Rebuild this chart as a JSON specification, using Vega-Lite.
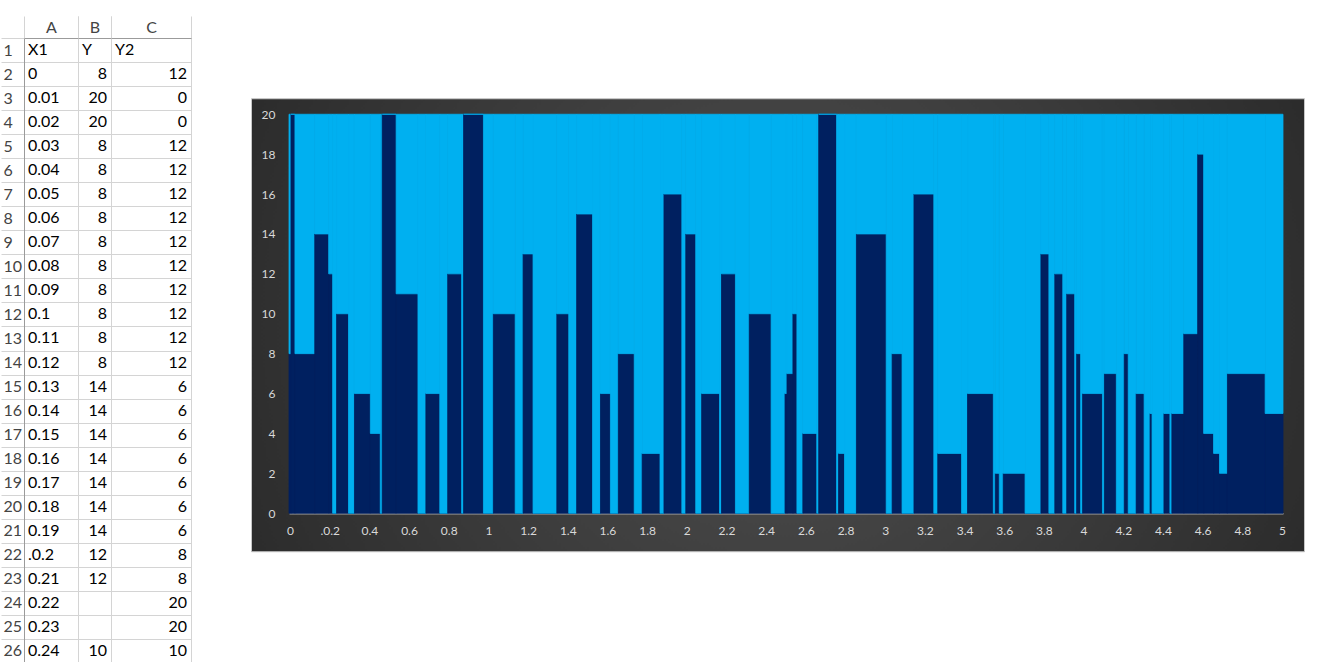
{
  "$schema": "https://vega.github.io/schema/vega-lite/v6.json",
  "background": "white",
  "padding": {"left": 0, "top": 15, "right": 0, "bottom": 0},
  "datasets": {
    "sheet": [
      {"row": 1, "X1": "X1", "Y": "Y", "Y2": "Y2"},
      {"row": 2, "X1": "0", "Y": 8, "Y2": 12},
      {"row": 3, "X1": "0.01", "Y": 20, "Y2": 0},
      {"row": 4, "X1": "0.02", "Y": 20, "Y2": 0},
      {"row": 5, "X1": "0.03", "Y": 8, "Y2": 12},
      {"row": 6, "X1": "0.04", "Y": 8, "Y2": 12},
      {"row": 7, "X1": "0.05", "Y": 8, "Y2": 12},
      {"row": 8, "X1": "0.06", "Y": 8, "Y2": 12},
      {"row": 9, "X1": "0.07", "Y": 8, "Y2": 12},
      {"row": 10, "X1": "0.08", "Y": 8, "Y2": 12},
      {"row": 11, "X1": "0.09", "Y": 8, "Y2": 12},
      {"row": 12, "X1": "0.1", "Y": 8, "Y2": 12},
      {"row": 13, "X1": "0.11", "Y": 8, "Y2": 12},
      {"row": 14, "X1": "0.12", "Y": 8, "Y2": 12},
      {"row": 15, "X1": "0.13", "Y": 14, "Y2": 6},
      {"row": 16, "X1": "0.14", "Y": 14, "Y2": 6},
      {"row": 17, "X1": "0.15", "Y": 14, "Y2": 6},
      {"row": 18, "X1": "0.16", "Y": 14, "Y2": 6},
      {"row": 19, "X1": "0.17", "Y": 14, "Y2": 6},
      {"row": 20, "X1": "0.18", "Y": 14, "Y2": 6},
      {"row": 21, "X1": "0.19", "Y": 14, "Y2": 6},
      {"row": 22, "X1": ".0.2", "Y": 12, "Y2": 8},
      {"row": 23, "X1": "0.21", "Y": 12, "Y2": 8},
      {"row": 24, "X1": "0.22", "Y": null, "Y2": 20},
      {"row": 25, "X1": "0.23", "Y": null, "Y2": 20},
      {"row": 26, "X1": "0.24", "Y": 10, "Y2": 10}
    ],
    "runs": [
      {"start": -0.005, "end": 0.005, "Y": 8, "Y2": 12},
      {"start": 0.005, "end": 0.025, "Y": 20, "Y2": 0},
      {"start": 0.025, "end": 0.125, "Y": 8, "Y2": 12},
      {"start": 0.125, "end": 0.195, "Y": 14, "Y2": 6},
      {"start": 0.195, "end": 0.215, "Y": 12, "Y2": 8},
      {"start": 0.215, "end": 0.235, "Y": 0, "Y2": 20},
      {"start": 0.235, "end": 0.295, "Y": 10, "Y2": 10},
      {"start": 0.295, "end": 0.325, "Y": 0, "Y2": 20},
      {"start": 0.325, "end": 0.405, "Y": 6, "Y2": 14},
      {"start": 0.405, "end": 0.455, "Y": 4, "Y2": 16},
      {"start": 0.455, "end": 0.465, "Y": 0, "Y2": 20},
      {"start": 0.465, "end": 0.535, "Y": 20, "Y2": 0},
      {"start": 0.535, "end": 0.645, "Y": 11, "Y2": 9},
      {"start": 0.645, "end": 0.685, "Y": 0, "Y2": 20},
      {"start": 0.685, "end": 0.755, "Y": 6, "Y2": 14},
      {"start": 0.755, "end": 0.795, "Y": 0, "Y2": 20},
      {"start": 0.795, "end": 0.865, "Y": 12, "Y2": 8},
      {"start": 0.865, "end": 0.875, "Y": 0, "Y2": 20},
      {"start": 0.875, "end": 0.975, "Y": 20, "Y2": 0},
      {"start": 0.975, "end": 1.025, "Y": 0, "Y2": 20},
      {"start": 1.025, "end": 1.135, "Y": 10, "Y2": 10},
      {"start": 1.135, "end": 1.175, "Y": 0, "Y2": 20},
      {"start": 1.175, "end": 1.225, "Y": 13, "Y2": 7},
      {"start": 1.225, "end": 1.345, "Y": 0, "Y2": 20},
      {"start": 1.345, "end": 1.405, "Y": 10, "Y2": 10},
      {"start": 1.405, "end": 1.445, "Y": 0, "Y2": 20},
      {"start": 1.445, "end": 1.525, "Y": 15, "Y2": 5},
      {"start": 1.525, "end": 1.565, "Y": 0, "Y2": 20},
      {"start": 1.565, "end": 1.615, "Y": 6, "Y2": 14},
      {"start": 1.615, "end": 1.655, "Y": 0, "Y2": 20},
      {"start": 1.655, "end": 1.735, "Y": 8, "Y2": 12},
      {"start": 1.735, "end": 1.775, "Y": 0, "Y2": 20},
      {"start": 1.775, "end": 1.865, "Y": 3, "Y2": 17},
      {"start": 1.865, "end": 1.885, "Y": 0, "Y2": 20},
      {"start": 1.885, "end": 1.975, "Y": 16, "Y2": 4},
      {"start": 1.975, "end": 1.995, "Y": 0, "Y2": 20},
      {"start": 1.995, "end": 2.045, "Y": 14, "Y2": 6},
      {"start": 2.045, "end": 2.075, "Y": 0, "Y2": 20},
      {"start": 2.075, "end": 2.165, "Y": 6, "Y2": 14},
      {"start": 2.165, "end": 2.175, "Y": 0, "Y2": 20},
      {"start": 2.175, "end": 2.245, "Y": 12, "Y2": 8},
      {"start": 2.245, "end": 2.315, "Y": 0, "Y2": 20},
      {"start": 2.315, "end": 2.425, "Y": 10, "Y2": 10},
      {"start": 2.425, "end": 2.495, "Y": 0, "Y2": 20},
      {"start": 2.495, "end": 2.505, "Y": 6, "Y2": 14},
      {"start": 2.505, "end": 2.535, "Y": 7, "Y2": 13},
      {"start": 2.535, "end": 2.555, "Y": 10, "Y2": 10},
      {"start": 2.555, "end": 2.585, "Y": 0, "Y2": 20},
      {"start": 2.585, "end": 2.655, "Y": 4, "Y2": 16},
      {"start": 2.655, "end": 2.665, "Y": 0, "Y2": 20},
      {"start": 2.665, "end": 2.755, "Y": 20, "Y2": 0},
      {"start": 2.755, "end": 2.765, "Y": 0, "Y2": 20},
      {"start": 2.765, "end": 2.795, "Y": 3, "Y2": 17},
      {"start": 2.795, "end": 2.855, "Y": 0, "Y2": 20},
      {"start": 2.855, "end": 3.005, "Y": 14, "Y2": 6},
      {"start": 3.005, "end": 3.035, "Y": 0, "Y2": 20},
      {"start": 3.035, "end": 3.085, "Y": 8, "Y2": 12},
      {"start": 3.085, "end": 3.145, "Y": 0, "Y2": 20},
      {"start": 3.145, "end": 3.245, "Y": 16, "Y2": 4},
      {"start": 3.245, "end": 3.265, "Y": 0, "Y2": 20},
      {"start": 3.265, "end": 3.385, "Y": 3, "Y2": 17},
      {"start": 3.385, "end": 3.415, "Y": 0, "Y2": 20},
      {"start": 3.415, "end": 3.545, "Y": 6, "Y2": 14},
      {"start": 3.545, "end": 3.555, "Y": 0, "Y2": 20},
      {"start": 3.555, "end": 3.575, "Y": 2, "Y2": 18},
      {"start": 3.575, "end": 3.595, "Y": 0, "Y2": 20},
      {"start": 3.595, "end": 3.705, "Y": 2, "Y2": 18},
      {"start": 3.705, "end": 3.785, "Y": 0, "Y2": 20},
      {"start": 3.785, "end": 3.825, "Y": 13, "Y2": 7},
      {"start": 3.825, "end": 3.855, "Y": 0, "Y2": 20},
      {"start": 3.855, "end": 3.895, "Y": 12, "Y2": 8},
      {"start": 3.895, "end": 3.915, "Y": 0, "Y2": 20},
      {"start": 3.915, "end": 3.955, "Y": 11, "Y2": 9},
      {"start": 3.955, "end": 3.965, "Y": 0, "Y2": 20},
      {"start": 3.965, "end": 3.985, "Y": 8, "Y2": 12},
      {"start": 3.985, "end": 3.995, "Y": 0, "Y2": 20},
      {"start": 3.995, "end": 4.095, "Y": 6, "Y2": 14},
      {"start": 4.095, "end": 4.105, "Y": 0, "Y2": 20},
      {"start": 4.105, "end": 4.165, "Y": 7, "Y2": 13},
      {"start": 4.165, "end": 4.205, "Y": 0, "Y2": 20},
      {"start": 4.205, "end": 4.225, "Y": 8, "Y2": 12},
      {"start": 4.225, "end": 4.265, "Y": 0, "Y2": 20},
      {"start": 4.265, "end": 4.305, "Y": 6, "Y2": 14},
      {"start": 4.305, "end": 4.335, "Y": 0, "Y2": 20},
      {"start": 4.335, "end": 4.345, "Y": 5, "Y2": 15},
      {"start": 4.345, "end": 4.405, "Y": 0, "Y2": 20},
      {"start": 4.405, "end": 4.435, "Y": 5, "Y2": 15},
      {"start": 4.435, "end": 4.445, "Y": 0, "Y2": 20},
      {"start": 4.445, "end": 4.505, "Y": 5, "Y2": 15},
      {"start": 4.505, "end": 4.575, "Y": 9, "Y2": 11},
      {"start": 4.575, "end": 4.605, "Y": 18, "Y2": 2},
      {"start": 4.605, "end": 4.655, "Y": 4, "Y2": 16},
      {"start": 4.655, "end": 4.685, "Y": 3, "Y2": 17},
      {"start": 4.685, "end": 4.725, "Y": 2, "Y2": 18},
      {"start": 4.725, "end": 4.915, "Y": 7, "Y2": 13},
      {"start": 4.915, "end": 5.005, "Y": 5, "Y2": 15}
    ]
  },
  "center": true,
  "spacing": 58,
  "hconcat": [
    {
      "spacing": 0,
      "bounds": "flush",
      "hconcat": [
        {
          "width": 54,
          "height": 625,
          "data": {"name": "sheet"},
          "mark": {"type": "text", "align": "left", "baseline": "middle", "dx": 4, "font": "Lato", "fontSize": 16, "color": "#000000"},
          "encoding": {
            "x": {
              "datum": "A", "type": "nominal", "bandPosition": 0,
              "scale": {"paddingInner": 0, "paddingOuter": 0},
              "axis": {"orient": "top", "title": null, "domainColor": "#9b9b9b", "tickBand": "extent", "tickSize": 22, "tickColor": "#d4d4d4", "grid": true, "gridColor": "#d4d4d4", "labelFont": "Lato", "labelFontSize": 16, "labelColor": "#444444", "labelBaseline": "middle", "labelPadding": -11, "labelAngle": 0}
            },
            "y": {
              "field": "row", "type": "ordinal",
              "scale": {"domain": [1, 2, 3, 4, 5, 6, 7, 8, 9, 10, 11, 12, 13, 14, 15, 16, 17, 18, 19, 20, 21, 22, 23, 24, 25, 26], "paddingInner": 0, "paddingOuter": 0},
              "axis": {"orient": "left", "title": null, "domainColor": "#9b9b9b", "tickBand": "extent", "tickSize": 23, "tickColor": "#d4d4d4", "grid": true, "gridColor": "#d4d4d4", "labelFont": "Lato", "labelFontSize": 16, "labelColor": "#444444", "labelAlign": "left", "labelBaseline": "middle", "labelPadding": -2}
            },
            "text": {"field": "X1"}
          }
        },
        {
          "width": 33,
          "height": 625,
          "data": {"name": "sheet"},
          "layer": [
            {
              "transform": [{"filter": "datum.row == 1"}],
              "mark": {"type": "text", "align": "left", "baseline": "middle", "dx": 4, "font": "Lato", "fontSize": 16, "color": "#000000"},
              "encoding": {
                "x": {
                  "datum": "B", "type": "nominal", "bandPosition": 0,
                  "scale": {"paddingInner": 0, "paddingOuter": 0},
                  "axis": {"orient": "top", "title": null, "domainColor": "#9b9b9b", "tickBand": "extent", "tickSize": 22, "tickColor": "#d4d4d4", "grid": true, "gridColor": "#d4d4d4", "labelFont": "Lato", "labelFontSize": 16, "labelColor": "#444444", "labelBaseline": "middle", "labelPadding": -11, "labelAngle": 0}
                },
                "y": {
                  "field": "row", "type": "ordinal",
                  "scale": {"domain": [1, 2, 3, 4, 5, 6, 7, 8, 9, 10, 11, 12, 13, 14, 15, 16, 17, 18, 19, 20, 21, 22, 23, 24, 25, 26], "paddingInner": 0, "paddingOuter": 0},
                  "axis": {"orient": "left", "title": null, "domain": false, "ticks": false, "labels": false, "tickBand": "extent", "grid": true, "gridColor": "#d4d4d4"}
                },
                "text": {"field": "Y"}
              }
            },
            {
              "transform": [{"filter": "datum.row > 1 && isValid(datum.Y)"}],
              "mark": {"type": "text", "align": "right", "baseline": "middle", "dx": -4, "font": "Lato", "fontSize": 16, "color": "#000000"},
              "encoding": {
                "x": {
                  "datum": "B", "type": "nominal", "bandPosition": 1,
                  "scale": {"paddingInner": 0, "paddingOuter": 0},
                  "axis": {"orient": "top", "title": null, "domainColor": "#9b9b9b", "tickBand": "extent", "tickSize": 22, "tickColor": "#d4d4d4", "grid": true, "gridColor": "#d4d4d4", "labelFont": "Lato", "labelFontSize": 16, "labelColor": "#444444", "labelBaseline": "middle", "labelPadding": -11, "labelAngle": 0}
                },
                "y": {
                  "field": "row", "type": "ordinal",
                  "scale": {"domain": [1, 2, 3, 4, 5, 6, 7, 8, 9, 10, 11, 12, 13, 14, 15, 16, 17, 18, 19, 20, 21, 22, 23, 24, 25, 26], "paddingInner": 0, "paddingOuter": 0},
                  "axis": {"orient": "left", "title": null, "domain": false, "ticks": false, "labels": false, "tickBand": "extent", "grid": true, "gridColor": "#d4d4d4"}
                },
                "text": {"field": "Y"}
              }
            }
          ]
        },
        {
          "width": 80,
          "height": 625,
          "data": {"name": "sheet"},
          "layer": [
            {
              "transform": [{"filter": "datum.row == 1"}],
              "mark": {"type": "text", "align": "left", "baseline": "middle", "dx": 4, "font": "Lato", "fontSize": 16, "color": "#000000"},
              "encoding": {
                "x": {
                  "datum": "C", "type": "nominal", "bandPosition": 0,
                  "scale": {"paddingInner": 0, "paddingOuter": 0},
                  "axis": {"orient": "top", "title": null, "domainColor": "#9b9b9b", "tickBand": "extent", "tickSize": 22, "tickColor": "#d4d4d4", "grid": true, "gridColor": "#d4d4d4", "labelFont": "Lato", "labelFontSize": 16, "labelColor": "#444444", "labelBaseline": "middle", "labelPadding": -11, "labelAngle": 0}
                },
                "y": {
                  "field": "row", "type": "ordinal",
                  "scale": {"domain": [1, 2, 3, 4, 5, 6, 7, 8, 9, 10, 11, 12, 13, 14, 15, 16, 17, 18, 19, 20, 21, 22, 23, 24, 25, 26], "paddingInner": 0, "paddingOuter": 0},
                  "axis": {"orient": "left", "title": null, "domain": false, "ticks": false, "labels": false, "tickBand": "extent", "grid": true, "gridColor": "#d4d4d4"}
                },
                "text": {"field": "Y2"}
              }
            },
            {
              "transform": [{"filter": "datum.row > 1 && isValid(datum.Y2)"}],
              "mark": {"type": "text", "align": "right", "baseline": "middle", "dx": -4, "font": "Lato", "fontSize": 16, "color": "#000000"},
              "encoding": {
                "x": {
                  "datum": "C", "type": "nominal", "bandPosition": 1,
                  "scale": {"paddingInner": 0, "paddingOuter": 0},
                  "axis": {"orient": "top", "title": null, "domainColor": "#9b9b9b", "tickBand": "extent", "tickSize": 22, "tickColor": "#d4d4d4", "grid": true, "gridColor": "#d4d4d4", "labelFont": "Lato", "labelFontSize": 16, "labelColor": "#444444", "labelBaseline": "middle", "labelPadding": -11, "labelAngle": 0}
                },
                "y": {
                  "field": "row", "type": "ordinal",
                  "scale": {"domain": [1, 2, 3, 4, 5, 6, 7, 8, 9, 10, 11, 12, 13, 14, 15, 16, 17, 18, 19, 20, 21, 22, 23, 24, 25, 26], "paddingInner": 0, "paddingOuter": 0},
                  "axis": {"orient": "left", "title": null, "domain": false, "ticks": false, "labels": false, "tickBand": "extent", "grid": true, "gridColor": "#d4d4d4"}
                },
                "text": {"field": "Y2"}
              }
            }
          ]
        }
      ]
    },
    {
      "width": 1053,
      "height": 453,
      "view": {
        "fill": {
          "gradient": "radial",
          "stops": [{"offset": 0, "color": "#505050"}, {"offset": 1, "color": "#202020"}],
          "x1": 0.5, "y1": 0.5, "x2": 0.5, "y2": 0.5, "r1": 0, "r2": 0.72
        },
        "stroke": "#c6c6c6"
      },
      "data": {"name": "runs"},
      "transform": [
        {"fold": ["Y", "Y2"], "as": ["series", "value"]},
        {"stack": "value", "groupby": ["start"], "sort": [{"field": "series", "order": "ascending"}], "as": ["v0", "v1"]}
      ],
      "mark": {"type": "bar", "strokeWidth": 0.8},
      "encoding": {
        "x": {
          "field": "start", "type": "quantitative",
          "scale": {"domain": [-0.005, 5.005], "range": [38, 1032], "nice": false, "zero": false},
          "axis": {
            "orient": "bottom", "offset": -38, "title": null, "minExtent": 90,
            "values": [0, 0.2, 0.4, 0.6, 0.8, 1, 1.2, 1.4, 1.6, 1.8, 2, 2.2, 2.4, 2.6, 2.8, 3, 3.2, 3.4, 3.6, 3.8, 4, 4.2, 4.4, 4.6, 4.8, 5],
            "labelExpr": "datum.value == 0.2 ? '.0.2' : format(datum.value, '~g')",
            "ticks": false, "grid": false,
            "domainColor": "#a6a6a6", "domainWidth": 1.5,
            "labelColor": "#d9d9d9", "labelFont": "Lato", "labelFontSize": 12, "labelPadding": 12,
            "labelOverlap": false, "labelFlush": false
          }
        },
        "x2": {"field": "end"},
        "y": {
          "field": "v0", "type": "quantitative",
          "scale": {"domain": [0, 20], "range": [415, 16], "nice": false},
          "axis": {
            "orient": "left", "offset": -38, "title": null,
            "values": [0, 2, 4, 6, 8, 10, 12, 14, 16, 18, 20],
            "domain": false, "ticks": false, "grid": false,
            "labelColor": "#d9d9d9", "labelFont": "Lato", "labelFontSize": 12, "labelPadding": 14
          }
        },
        "y2": {"field": "v1"},
        "color": {
          "field": "series", "type": "nominal",
          "scale": {"domain": ["Y", "Y2"], "range": ["#002060", "#00b0f0"]},
          "legend": null
        },
        "stroke": {
          "field": "series", "type": "nominal",
          "scale": {"domain": ["Y", "Y2"], "range": ["#002060", "#00b0f0"]},
          "legend": null
        }
      }
    }
  ]
}
